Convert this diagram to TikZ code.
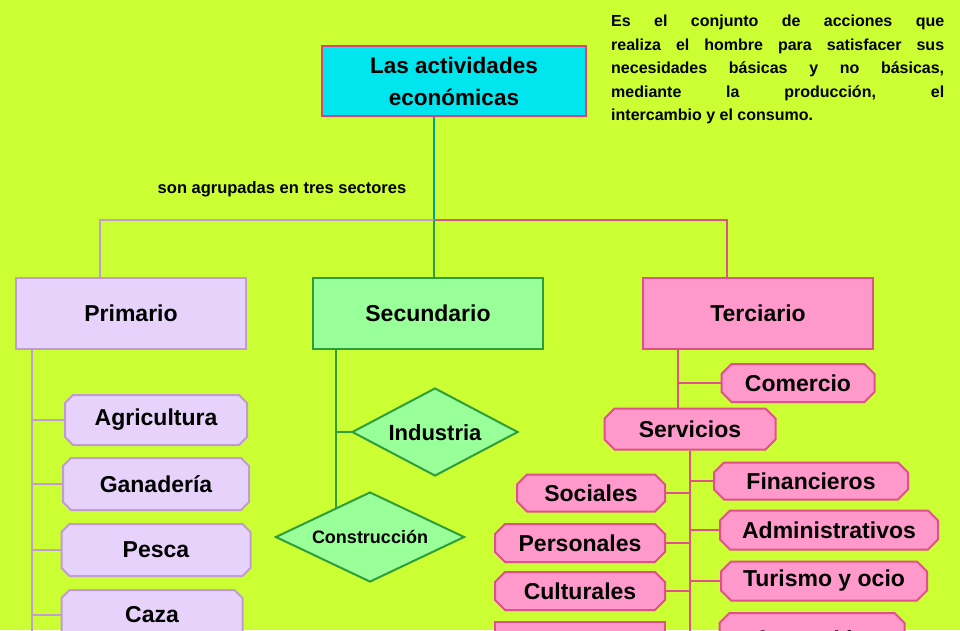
\documentclass[tikz,border=0pt]{standalone}
\usepackage{fontspec}
\setmainfont{Liberation Sans}
\usetikzlibrary{shapes.geometric,shapes.misc}
\definecolor{bg}{HTML}{CCFF33}
\definecolor{lav}{HTML}{E6D2FA}
\definecolor{lavb}{HTML}{C39BD3}
\definecolor{grn}{HTML}{99FF99}
\definecolor{grnb}{HTML}{2E9E3A}
\definecolor{pnk}{HTML}{FF99CC}
\definecolor{pnkb}{HTML}{E0508A}
\definecolor{cya}{HTML}{00E5EE}
\definecolor{cyab}{HTML}{E04080}
\newcommand{\jline}[1]{\makebox[333pt][s]{#1}}
\begin{document}
\begin{tikzpicture}[x=1pt,y=-1pt,
  every node/.style={font=\bfseries},
  sect/.style={rectangle,line width=2pt,minimum width=230pt,minimum height=71pt,font=\bfseries\fontsize{23}{26}\selectfont},
  lavbox/.style={chamfered rectangle,chamfered rectangle xsep=4pt,chamfered rectangle ysep=4pt,draw=lavb,fill=lav,line width=2pt,inner sep=0pt,font=\bfseries\fontsize{23}{26}\selectfont},
  pbox/.style={chamfered rectangle,chamfered rectangle xsep=5pt,chamfered rectangle ysep=5pt,draw=pnkb,fill=pnk,line width=2pt,inner sep=0pt,font=\bfseries\fontsize{23}{26}\selectfont},
  dia/.style={diamond,draw=grnb,fill=grn,line width=2pt,inner sep=0pt},
  lavl/.style={draw=lavb,line width=2.5pt},
  grnl/.style={draw=grnb,line width=2pt},
  pnkl/.style={draw=pnkb,line width=2.5pt}]
\useasboundingbox (0,0) rectangle (960,630);
\clip (0,0) rectangle (960,630);
\fill[bg] (0,0) rectangle (960,630);
% top
\node[rectangle,draw=cyab,fill=cya,line width=1.5pt,minimum width=264pt,minimum height=70pt,align=center,font=\bfseries\fontsize{22.5}{32}\selectfont] (top) at (454,81) {Las actividades\\económicas};
\node[align=left,font=\bfseries\fontsize{16}{23.5}\selectfont,inner sep=0pt,anchor=north west] (def) at (611,15) {\jline{Es el conjunto de acciones que}\\\jline{realiza el hombre para satisfacer sus}\\\jline{necesidades básicas y no básicas,}\\\jline{mediante la producción, el}\\intercambio y el consumo.};
\node[font=\bfseries\fontsize{16.5}{18}\selectfont] (lab) at (282,189) {son agrupadas en tres sectores};
% sectors
\node[sect,draw=lavb,fill=lav] (pri) at (131,313) {Primario};
\node[sect,draw=grnb,fill=grn] (sec) at (428,313) {Secundario};
\node[sect,draw=pnkb,fill=pnk] (ter) at (758,313) {Terciario};
\coordinate (j) at (434,220);
\coordinate (jl) at (100,220);
\coordinate (jr) at (727,220);
\draw[draw=teal!70!cya,line width=2pt] (top.south -| j) -- (j);
\draw[lavl] (j) -- (jl) -- (jl |- pri.north);
\draw[pnkl] (j) -- (jr) -- (jr |- ter.north);
\draw[grnl] (j) -- (j |- sec.north);
% primario
\node[lavbox,minimum width=182pt,minimum height=50pt] (agr) at (156,420) {Agricultura};
\node[lavbox,minimum width=186pt,minimum height=52pt] (gan) at (156,484) {Ganadería};
\node[lavbox,minimum width=189pt,minimum height=52pt] (pes) at (156,550) {Pesca};
\node[lavbox,minimum width=181pt,minimum height=50pt] (caz) at (152,615) {Caza};
\coordinate (pv) at (32,640);
\draw[lavl] (pri.south -| pv) -- (pv);
\foreach \n in {agr,gan,pes,caz} \draw[lavl] (\n.west -| pv) -- (\n.west);
% secundario
\node[dia,minimum width=166pt,minimum height=88pt] (ind) at (435,432) {};
\node[font=\bfseries\fontsize{22}{24}\selectfont] (indt) at (435,433) {Industria};
\node[dia,minimum width=189pt,minimum height=90pt] (con) at (370,537) {};
\node[font=\bfseries\fontsize{18}{20}\selectfont] (cont) at (370,537) {Construcción};
\coordinate (sv) at (336,508);
\draw[grnl] (sec.south -| sv) -- (sv);
\draw[grnl] (ind.west -| sv) -- (ind.west);
% terciario
\node[pbox,minimum width=153pt,minimum height=38pt] (com) at (798,383) {Comercio};
\node[pbox,minimum width=171pt,minimum height=41pt] (ser) at (690,429) {Servicios};
\coordinate (tv) at (678,350);
\draw[pnkl] (ter.south -| tv) -- (tv |- ser.north);
\draw[pnkl] (com.west -| tv) -- (com.west);
\node[pbox,minimum width=194pt,minimum height=37pt] (fin) at (811,481) {Financieros};
\node[pbox,minimum width=218pt,minimum height=39pt] (adm) at (829,530) {Administrativos};
\node[pbox,minimum width=206pt,minimum height=39pt] (tur) at (824,581) {Turismo y ocio};
\node[pbox,minimum width=185pt,minimum height=56pt,anchor=north] (inf) at (812,612) {Información y};
\node[pbox,minimum width=148pt,minimum height=37pt] (soc) at (591,493) {Sociales};
\node[pbox,minimum width=170pt,minimum height=38pt] (per) at (580,543) {Personales};
\node[pbox,minimum width=170pt,minimum height=38pt] (cul) at (580,591) {Culturales};
\node[pbox,minimum width=170pt,minimum height=38pt,anchor=north] (oth) at (580,621) {};
\coordinate (sv2) at (690,640);
\draw[pnkl] (ser.south -| sv2) -- (sv2);
\foreach \n in {fin,adm,tur} \draw[pnkl] (\n.west -| sv2) -- (\n.west);
\foreach \n in {soc,per,cul} \draw[pnkl] (\n.east -| sv2) -- (\n.east);
\end{tikzpicture}
\end{document}
